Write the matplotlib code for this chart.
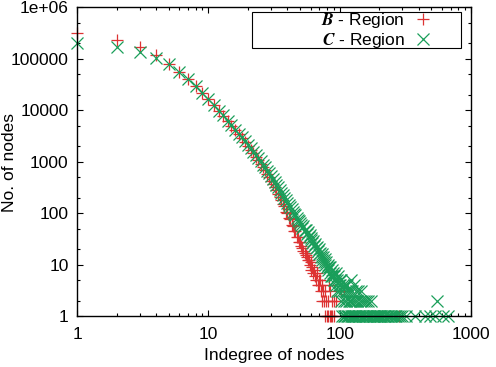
import matplotlib
matplotlib.use("Agg")
import matplotlib.pyplot as plt
from matplotlib.ticker import LogLocator, FixedLocator, FixedFormatter, NullFormatter
from matplotlib.patches import Rectangle

# ---------------- data ----------------
red_deg = list(range(1, 89)) + [90, 91, 93, 103, 108, 285]
red_cnt = [310000, 235000, 168000, 118000, 80000, 56000, 40500, 29500, 22000, 16500,
           12600, 9800, 7800, 6200, 5000, 4100, 3400, 2850, 2400, 2020,
           1720, 1460, 1250, 1070, 920, 790, 680, 580, 500, 430,
           370, 318, 275, 238, 205, 176, 152, 138, 105, 100,
           80, 76, 60, 57, 44, 45, 34, 35, 27, 28,
           23, 21, 18, 17, 15, 14, 12, 12, 10, 11,
           8, 9, 7, 8, 6, 5, 7, 4, 5, 4,
           5, 3, 4, 2, 3, 2, 3, 1, 2, 1,
           2, 1, 4, 1, 3, 1, 2, 1,
           2, 1, 2, 3, 3, 1]

green_deg = list(range(1, 132)) + [133, 134, 136, 137, 139, 140, 142, 144, 146, 147,
             149, 151, 153, 155, 158, 160, 162, 165, 167, 170, 172, 175, 178, 181,
             184, 188, 191, 195, 199, 203, 207, 212, 217, 222, 228, 234, 240, 247,
             254, 262, 270, 279, 290, 300, 322, 376, 450, 490, 535, 550, 610, 670]
green_cnt = [200000, 168000, 133000, 104000, 78000, 55000, 40000, 29500, 22000, 16300,
             12500, 9800, 7900, 6300, 5100, 4200, 3500, 2950, 2500, 2120,
             1820, 1560, 1350, 1170, 1010, 880, 770, 670, 590, 515,
             455, 400, 355, 315, 280, 250, 222, 200, 178, 160,
             145, 130, 118, 107, 98, 90, 82, 75, 69, 63,
             60, 52, 55, 46, 48, 40, 42, 35, 37, 30,
             33, 26, 29, 23, 25, 21, 22, 18, 20, 16,
             17, 14, 16, 12, 14, 11, 13, 10, 11, 9,
             10, 8, 9, 7, 9, 6, 8, 6, 7, 5,
             6, 5, 7, 4, 5, 3, 6, 4, 3, 5,
             4, 2, 5, 1, 3, 4, 1, 2, 4, 1,
             3, 2, 1, 4, 1, 3, 2, 1, 2, 3,
             1, 5, 2, 1, 3, 1, 2, 1, 4, 2,
             1,
             3, 1, 2, 1, 3, 1, 2, 1, 3, 1,
             2, 1, 2, 1, 2, 1, 1, 2, 1, 1, 2, 1, 1, 1,
             1, 1, 1, 1, 1, 1, 1, 1, 1, 1, 1, 1, 1, 1,
             1, 1, 1, 1, 1, 1, 1, 1, 1, 1, 1, 2, 1, 1]

x_ticks = [1, 10, 100, 1000]
x_tick_labels = ["1", "10", "100", "1000"]
y_ticks = [1, 10, 100, 1000, 10000, 100000, 1000000]
y_tick_labels = ["1", "10", "100", "1000", "10000", "100000", "1e+06"]

RED = "#dd3333"
GREEN = "#1a9e5a"

plt.rcParams["font.family"] = ["Liberation Sans", "DejaVu Sans"]
plt.rcParams["mathtext.fontset"] = "stix"

W, H = 496, 367
fig = plt.figure(figsize=(W / 100, H / 100), dpi=100)
L, R, T, B = 77, 471, 7.3, 316
ax = fig.add_axes([L / W, (H - B) / H, (R - L) / W, (B - T) / H])
ax.set_xscale("log")
ax.set_yscale("log")
ax.set_xlim(1, 1000)
ax.set_ylim(1, 1e6)

ax.plot(red_deg, red_cnt, linestyle="none", marker="+", markersize=8.6,
        markeredgewidth=0.9, color=RED, clip_on=False,
        label=r"$\mathbfit{B}$ - Region")
ax.plot(green_deg, green_cnt, linestyle="none", marker="x", markersize=8.0,
        markeredgewidth=0.9, color=GREEN, clip_on=False,
        label=r"$\mathbfit{C}$ - Region")

ax.xaxis.set_major_locator(FixedLocator(x_ticks))
ax.xaxis.set_major_formatter(FixedFormatter(x_tick_labels))
ax.xaxis.set_minor_locator(LogLocator(base=10, subs=tuple(range(2, 10))))
ax.xaxis.set_minor_formatter(NullFormatter())
ax.yaxis.set_major_locator(FixedLocator(y_ticks))
ax.yaxis.set_major_formatter(FixedFormatter(y_tick_labels))
ax.yaxis.set_minor_locator(LogLocator(base=10, subs=(2.0, 5.0)))
ax.yaxis.set_minor_formatter(NullFormatter())

ax.tick_params(which="both", direction="in", top=True, right=True, width=0.8, colors="black")
ax.tick_params(which="major", length=4.5, labelsize=12.5)
ax.tick_params(axis="x", which="major", pad=8)
ax.tick_params(axis="y", which="major", pad=6)
ax.tick_params(which="minor", length=2.2)
for s in ax.spines.values():
    s.set_linewidth(1.0)

ax.set_xlabel("Indegree of nodes", fontsize=12.5, labelpad=4)
fig.text(10 / W, 1 - 163 / H, "No. of nodes", rotation=90, fontsize=12.5,
         ha="center", va="center")

# legend frame (gnuplot style box)
fx0 = (252 - L) / (R - L)
fx1 = (461 - L) / (R - L)
fy0 = (B - 48.3) / (B - T)
fy1 = (B - 11.7) / (B - T)
ax.add_patch(Rectangle((fx0, fy0), fx1 - fx0, fy1 - fy0, transform=ax.transAxes,
                       fill=True, facecolor="white", edgecolor="black", linewidth=0.8,
                       zorder=4, clip_on=False))
leg = ax.legend(loc="center right", bbox_to_anchor=((433.4 - L) / (R - L), (B - 30.85) / (B - T)),
                frameon=False, markerfirst=False, borderpad=0, borderaxespad=0,
                handlelength=1.2, handletextpad=0.45, labelspacing=0.05,
                fontsize=12.5, numpoints=1)
leg.set_zorder(5)

fig.savefig("out.png", dpi=100)
